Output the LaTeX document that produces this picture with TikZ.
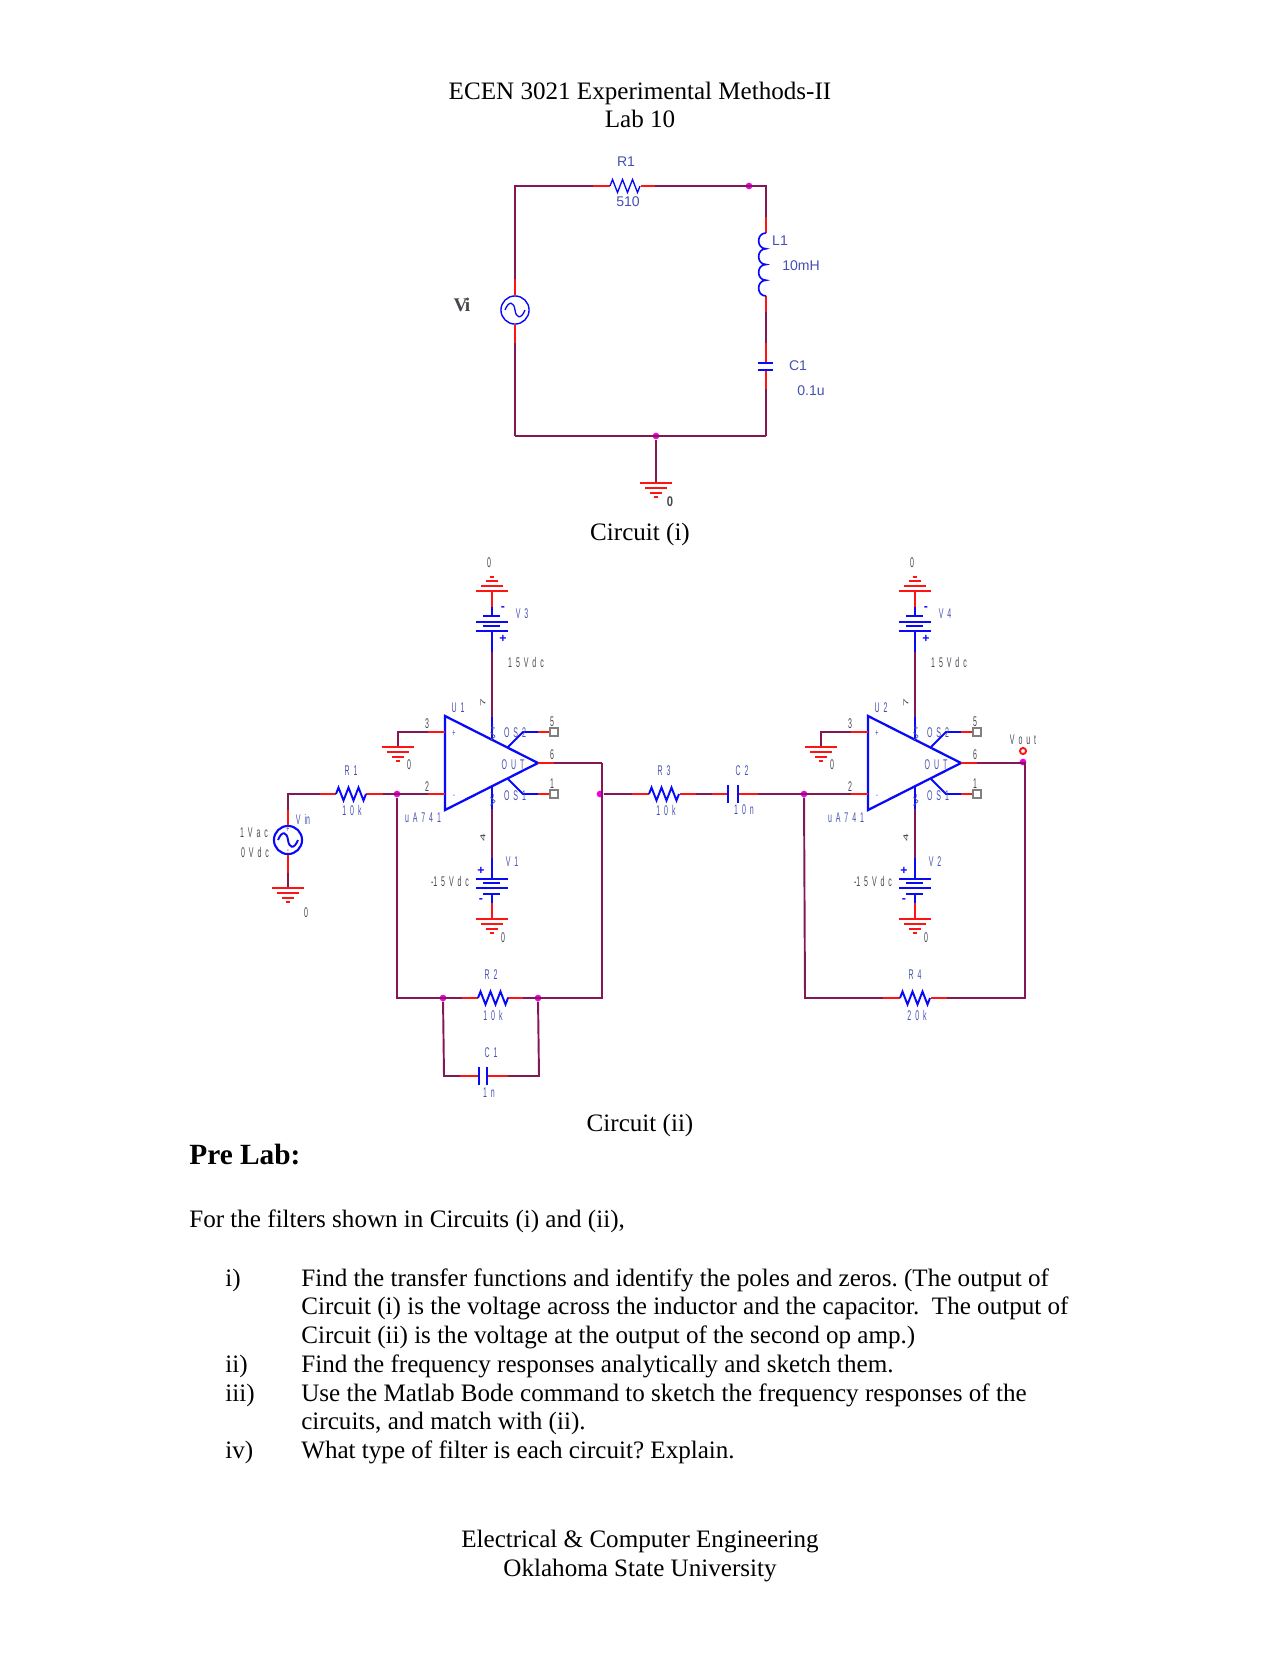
\documentclass[tikz,border=0pt]{standalone}
\usepackage{fontspec}
\setmainfont{Liberation Serif}
\newfontfamily\pinfont{Liberation Sans}[WordSpace=2]
\definecolor{wirepurple}{RGB}{132, 24, 84}
\definecolor{pinred}{RGB}{255, 20, 20}
\definecolor{partblue}{RGB}{10, 10, 250}
\definecolor{lblblue}{RGB}{70, 80, 175}
\definecolor{lblgray}{RGB}{70, 70, 80}
\definecolor{nodepink}{RGB}{240, 0, 230}
\usetikzlibrary{positioning, calc}

\begin{document}
\frenchspacing
\begin{tikzpicture}[x=0.02cm, y=-0.02cm,
  wire/.style={draw=wirepurple, line width=1.1pt},
  thinwire/.style={draw=wirepurple, line width=0.65pt},
  pinw/.style={draw=pinred, line width=1.1pt},
  thinpin/.style={draw=pinred, line width=0.65pt},
  part/.style={draw=partblue, line width=1.1pt},
  thinpart/.style={draw=partblue, line width=0.7pt},
  junc/.style={circle, fill=nodepink, inner sep=0pt, minimum size=3.8pt},
  bodytxt/.style={font=\fontsize{14.28}{16.4}\selectfont, inner sep=0pt},
  lineL/.style={bodytxt, anchor=west},
  lbl/.style={font=\pinfont\fontsize{8}{9}\selectfont, text=lblblue, inner sep=0pt, xscale=0.5, transform shape},
  lblk/.style={lbl, text=lblgray},
  toplbl/.style={font=\pinfont\fontsize{8}{9}\selectfont, text=lblblue, inner sep=0pt},
  polmark/.style={font=\pinfont\bfseries\fontsize{7}{8}\selectfont, text=partblue, inner sep=0pt},
  srcring/.style={circle, draw=partblue, inner sep=0pt, minimum size=16pt},
  gnd/.pic={
    \draw[draw=pinred] (-16,0) -- (16,0) (-11,5) -- (11,5) (-6,10) -- (6,10) (-2,14) -- (2,14);
  },
  resis/.pic={
    \draw[draw=partblue] (0,0) -- (2.5,-6.5) -- (7.5,6.5) -- (12.5,-6.5) -- (17.5,6.5) -- (22.5,-6.5) -- (27.5,6.5) -- (30,0);
  },
  wave/.pic={
    \draw[draw=partblue] (-10,0) .. controls (-6,-10) and (-1,-8) .. (0,0) .. controls (1,8) and (6,10) .. (10,0);
  }
]
  \useasboundingbox (0,0) rectangle (1280,1656);

  % Title
  \node[bodytxt] (title) at (640,93) {ECEN 3021 Experimental Methods-II};
  \node[bodytxt] (lab) at (640,119) {Lab 10};

  % Circuit (i)
  \coordinate (tl) at (515,186);
  \coordinate (tr) at (766,186);
  \coordinate (bl) at (515,436);
  \coordinate (br) at (766,436);
  \coordinate (r1a) at (593,186);
  \coordinate (r1b) at (610,186);
  \coordinate (r1c) at (641,186);
  \coordinate (r1d) at (655,186);
  \coordinate (l1a) at (766,217);
  \coordinate (l1b) at (766,233);
  \coordinate (l1c) at (766,296);
  \coordinate (l1d) at (766,312);
  \coordinate (c1a) at (766,343);
  \coordinate (c1b) at (766,363);
  \coordinate (c1c) at (766,370);
  \coordinate (c1d) at (766,389);
  \coordinate (via) at (515,279);
  \coordinate (vib) at (515,343);
  \coordinate (gnd0) at (656,483);
  \node[srcring, draw=partblue, line width=0.8pt] (vi) at (515,310) {};
  \node[junc] (ja) at (749,186) {};
  \node[junc] (jb) at (656,436) {};
  \draw[thinwire] (via) -- (tl) -- (r1a);
  \draw[thinwire] (r1d) -- (tr) -- (l1a);
  \draw[thinwire] (l1d) -- (c1a);
  \draw[thinwire] (c1d) -- (br);
  \draw[thinwire] (vib) -- (bl);
  \draw[wire] (bl) -- (br);
  \draw[wire] (jb) -- (gnd0);
  \draw[thinpin] (r1a) -- (r1b);
  \draw[thinpin] (r1c) -- (r1d);
  \draw[thinpin] (l1a) -- (l1b);
  \draw[thinpin] (l1c) -- (l1d);
  \draw[thinpin] (c1a) -- (c1b);
  \draw[thinpin] (c1c) -- (c1d);
  \draw[thinpin] (via) -- (vi.north);
  \draw[thinpin] (vi.south) -- (vib);
  \pic[line width=0.75pt] at (r1b) {resis};
  \pic[line width=0.75pt] at (vi) {wave};
  \pic[line width=1pt] at (gnd0) {gnd};
  \draw[thinpart, line width=0.95pt] (l1b) to[out=180,in=180,looseness=1.6] ++(0,15.75) to[out=180,in=180,looseness=1.6] ++(0,15.75) to[out=180,in=180,looseness=1.6] ++(0,15.75) to[out=180,in=180,looseness=1.6] (l1c);
  \draw[thinpart, line width=0.95pt] ($(c1b)+(-8,0)$) -- ($(c1b)+(7,0)$);
  \draw[thinpart, line width=0.95pt] ($(c1c)+(-8,0)$) -- ($(c1c)+(7,0)$);
  \node[toplbl] (r1name) at (626,162) {R1};
  \node[toplbl] (r1val) at (628,202) {510};
  \node[toplbl] (l1name) at (780,241) {L1};
  \node[toplbl] (l1val) at (801,266) {10mH};
  \node[toplbl] (c1name) at (798,366) {C1};
  \node[toplbl] (c1val) at (811,391) {0.1u};
  \node[font=\bfseries\fontsize{11}{12}\selectfont, text=lblgray, inner sep=0pt] (viname) at (462,305) {V\kern-1.5pt i};
  \node[font=\pinfont\bfseries\fontsize{8}{9}\selectfont, text=lblgray, inner sep=0pt, xscale=0.8, transform shape] (gnd0name) at (670,502) {0};
  \node[bodytxt] (capone) at (640,534) {Circuit (i)};

  % Both op amp stages
  \foreach \u/\ox/\vt/\vb in {1/0/V 3/V 1, 2/423/V 4/V 2} {
    \begin{scope}[shift={(\ox,0)}]
      \coordinate (tria\u) at (445,716);
      \coordinate (trib\u) at (445,810);
      \coordinate (tip\u) at (538,763);
      \coordinate (plus\u) at (445,732);
      \coordinate (plusw\u) at (428,732);
      \coordinate (minus\u) at (445,794);
      \coordinate (minusw\u) at (428,794);
      \coordinate (outw\u) at (554,763);
      \coordinate (gtop\u) at (492,591);
      \coordinate (gbot\u) at (492,919);
      \coordinate (os2a\u) at (508,747);
      \coordinate (os2b\u) at (523,732);
      \coordinate (os2c\u) at (538,732);
      \coordinate (os1a\u) at (508,779);
      \coordinate (os1b\u) at (523,794);
      \coordinate (os1c\u) at (538,794);
      \coordinate (gplus\u) at (398,747);
      % Triangle and offset pins
      \draw[part, line width=1.3pt, line join=miter] (tria\u) -- (trib\u) -- (tip\u) -- cycle;
      \draw[part] (os2a\u) -- (os2b\u) -- (os2c\u);
      \draw[part] (os1a\u) -- (os1b\u) -- (os1c\u);
      \node[draw=gray, line width=1.1pt, inner sep=0pt, minimum size=4.5pt] (sq5\u) at (554,732) {};
      \node[draw=gray, line width=1.1pt, inner sep=0pt, minimum size=4.5pt] (sq1\u) at (554,794) {};
      \draw[pinw] (os2c\u) -- (sq5\u);
      \draw[pinw] (os1c\u) -- (sq1\u);
      \draw[pinw] (plusw\u) -- (plus\u);
      \draw[pinw] (minusw\u) -- (minus\u);
      \draw[pinw] (tip\u) -- (outw\u);
      % Ground on the plus input
      \draw[wire] (plusw\u) -| (gplus\u);
      \pic[line width=1.1pt] at (gplus\u) {gnd};
      % Upper supply
      \pic[line width=1.1pt, yscale=-1] at (gtop\u) {gnd};
      \draw[pinw] (gtop\u) -- (492,607);
      \draw[part] (492,607) -- (492,616);
      \draw[part] (483,616) -- (500,616);
      \draw[part] (476,622) -- (508,622);
      \draw[part] (483,626) -- (500,626);
      \draw[part] (476,631) -- (508,631);
      \draw[part] (492,631) -- (492,652);
      \draw[wire] (492,652) -- (492,717);
      \draw[part] (492,717) -- (492,740);
      % Lower supply
      \draw[part] (492,786) -- (492,809);
      \draw[wire] (492,809) -- (492,858);
      \draw[part] (492,858) -- (492,879);
      \draw[part] (476,879) -- (508,879);
      \draw[part] (483,883) -- (500,883);
      \draw[part] (476,888) -- (508,888);
      \draw[part] (483,894) -- (500,894);
      \draw[part] (492,894) -- (492,903);
      \draw[pinw] (492,903) -- (gbot\u);
      \pic[line width=1.1pt] at (gbot\u) {gnd};
      % Labels
      \node[lblk] (gtl\u) at (489,563) {0};
      \node[lbl] (vt\u) at (522,614) {\vt};
      \node[lblk] (vtv\u) at (526,662) {1 5 V d c};
      \node[polmark] (vtm\u) at (503,609) {-};
      \node[polmark] (vtp\u) at (503,639) {+};
      \node[lblk, rotate=90] (pseven\u) at (483,703) {7};
      \node[lbl] (uname\u) at (458,708) {U \u};
      \node[lblk] (pfive\u) at (552,722) {5};
      \node[lblk] (pone\u) at (552,784) {1};
      \node[lblk] (psix\u) at (552,755) {6};
      \node[lblk] (pthree\u) at (427,724) {3};
      \node[lblk] (ptwo\u) at (427,787) {2};
      \node[lblk] (gpl\u) at (409,765) {0};
      \node[lbl, font=\pinfont\fontsize{6}{7}\selectfont] (ipl\u) at (454,733) {+};
      \node[lbl, font=\pinfont\fontsize{6}{7}\selectfont] (imi\u) at (454,797) {-};
      \node[lbl, rotate=90] (vpp\u) at (493,733) {V+};
      \node[lbl, rotate=90] (vmm\u) at (493,800) {V-};
      \node[lbl] (osb\u) at (515,733) {O S 2};
      \node[lbl] (oout\u) at (513,765) {O U T};
      \node[lbl] (osa\u) at (515,796) {O S 1};
      \node[lbl] (ua\u) at (423,818) {u A 7 4 1};
      \node[lblk, rotate=90] (pfour\u) at (483,838) {4};
      \node[lbl] (vb\u) at (512,862) {\vb};
      \node[lblk] (vbv\u) at (450,881) {-1 5 V d c};
      \node[polmark] (vbp\u) at (481,871) {+};
      \node[polmark] (vbm\u) at (481,901) {-};
      \node[lblk] (gbl\u) at (503,938) {0};
    \end{scope}
  }

  % Input source
  \coordinate (vinc) at (288,794);
  \coordinate (vina) at (288,810);
  \coordinate (vinb) at (288,873);
  \coordinate (gvin) at (288,888);
  \coordinate (ra) at (320,794);
  \coordinate (rb) at (336,794);
  \coordinate (rc) at (366,794);
  \coordinate (rd) at (383,794);
  \node[srcring, line width=1.2pt] (vin) at (288,840) {};
  \node[junc] (jinv) at (397,794) {};
  \draw[wire] (vina) -- (vinc) -- (ra);
  \draw[pinw] (ra) -- (rb);
  \draw[pinw] (rc) -- (rd);
  \draw[wire] (rd) -- (minusw1);
  \draw[pinw] (vina) -- (vin.north);
  \draw[pinw] (vin.south) -- (vinb);
  \draw[wire] (vinb) -- (gvin);
  \pic[line width=1.1pt] at (rb) {resis};
  \pic[line width=1.1pt] at (vin) {wave};
  \pic[line width=1.1pt] at (gvin) {gnd};
  \node[lbl, font=\pinfont\fontsize{6}{7}\selectfont] (vinp) at (288,829) {+};
  \node[lbl, font=\pinfont\fontsize{6}{7}\selectfont] (vinm) at (288,852) {-};
  \node[lbl] (r1n) at (351,771) {R 1};
  \node[lbl] (r1k) at (352,810) {1 0 k};
  \node[lbl] (vinn) at (303,819) {V in};
  \node[lblk] (vac) at (254,833) {1 V a c};
  \node[lblk] (vdc) at (255,852) {0 V d c};
  \node[lblk] (gvinl) at (306,913) {0};

  % Middle stage R3 C2
  \coordinate (bout) at (602,763);
  \coordinate (r3a) at (632,794);
  \coordinate (r3b) at (649,794);
  \coordinate (r3c) at (680,794);
  \coordinate (r3d) at (696,794);
  \coordinate (c2a) at (712,794);
  \coordinate (c2b) at (728,794);
  \coordinate (c2c) at (738,794);
  \coordinate (c2d) at (758,794);
  \node[junc] (jmid) at (600,794) {};
  \node[junc] (jinv2) at (804,794) {};
  \draw[wire] (outw1) -- (bout);
  \draw[wire] (jmid) -- (r3a);
  \draw[pinw] (r3a) -- (r3b);
  \draw[pinw] (r3c) -- (r3d);
  \draw[wire] (r3d) -- (c2a);
  \draw[pinw] (c2a) -- (c2b);
  \draw[pinw] (c2c) -- (c2d);
  \draw[wire] (c2d) -- (minusw2);
  \pic[line width=1.1pt] at (r3b) {resis};
  \draw[part, line width=1.4pt] ($(c2b)+(0,-9)$) -- ($(c2b)+(0,9)$);
  \draw[part, line width=1.4pt] ($(c2c)+(0,-9)$) -- ($(c2c)+(0,9)$);
  \node[lbl] (r3n) at (664,771) {R 3};
  \node[lbl] (r3k) at (666,810) {1 0 k};
  \node[lbl] (c2n) at (742,771) {C 2};
  \node[lbl] (c2v) at (744,810) {1 0 n};

  % Feedback of first stage
  \coordinate (fbl) at (397,998);
  \coordinate (fbr) at (602,998);
  \coordinate (r2a) at (462,998);
  \coordinate (r2b) at (478,998);
  \coordinate (r2c) at (507,998);
  \coordinate (r2d) at (523,998);
  \coordinate (cbl) at (444,1076);
  \coordinate (cbr) at (539,1076);
  \coordinate (c3a) at (460,1076);
  \coordinate (c3b) at (479,1076);
  \coordinate (c3c) at (487,1076);
  \coordinate (c3d) at (508,1076);
  \node[junc] (jfba) at (443,998) {};
  \node[junc] (jfbb) at (538,998) {};
  \draw[wire] (jinv) -- (fbl) -- (r2a);
  \draw[wire] (bout) -- (fbr) -- (r2d);
  \draw[pinw] (r2a) -- (r2b);
  \draw[pinw] (r2c) -- (r2d);
  \pic[line width=1.1pt] at (r2b) {resis};
  \draw[wire] (jfba) -- (cbl) -- (c3a);
  \draw[wire] (jfbb) -- (cbr) -- (c3d);
  \draw[pinw] (c3a) -- (c3b);
  \draw[pinw] (c3c) -- (c3d);
  \draw[part, line width=1.4pt] ($(c3b)+(0,-9)$) -- ($(c3b)+(0,9)$);
  \draw[part, line width=1.4pt] ($(c3c)+(0,-9)$) -- ($(c3c)+(0,9)$);
  \node[lbl] (r2n) at (491,975) {R 2};
  \node[lbl] (r2k) at (493,1015) {1 0 k};
  \node[lbl] (c1n) at (491,1053) {C 1};
  \node[lbl] (c1v) at (489,1093) {1 n};

  % Feedback of second stage
  \coordinate (fcl) at (805,998);
  \coordinate (fcr) at (1025,998);
  \coordinate (r4a) at (883,998);
  \coordinate (r4b) at (900,998);
  \coordinate (r4c) at (931,998);
  \coordinate (r4d) at (947,998);
  \coordinate (vo) at (1025,763);
  \node[junc] (jout) at (1023,762) {};
  \node[circle, draw=pinred, line width=1.1pt, inner sep=0pt, minimum size=3.5pt] (voring) at (1023,751) {};
  \draw[wire] (outw2) -- (vo) -- (fcr) -- (r4d);
  \draw[wire] (jinv2) -- (fcl) -- (r4a);
  \draw[pinw] (r4a) -- (r4b);
  \draw[pinw] (r4c) -- (r4d);
  \pic[line width=1.1pt] at (r4b) {resis};
  \node[lbl] (r4n) at (915,975) {R 4};
  \node[lbl] (r4k) at (917,1015) {2 0 k};
  \node[lblk] (vout) at (1023,740) {V o u t};

  % Text below
  \node[bodytxt] (captwo) at (640,1125) {Circuit (ii)};
  \node[lineL, font=\bfseries\fontsize{16.7}{19}\selectfont] (prelab) at (189,1155) {Pre Lab:};
  \node[lineL] (intro) at (189,1221) {For the filters shown in Circuits (i) and (ii),};
  \node[lineL] (ia) at (225,1280) {i)};
  \node[lineL] (la) at (301,1280) {Find the transfer functions and identify the poles and zeros. (The output of};
  \node[lineL] (lb) at (301,1308) {Circuit (i) is the voltage across the inductor and the capacitor.\ \ The output of};
  \node[lineL] (lc) at (301,1337) {Circuit (ii) is the voltage at the output of the second op amp.)};
  \node[lineL] (ib) at (225,1366) {ii)};
  \node[lineL] (ld) at (301,1366) {Find the frequency responses analytically and sketch them.};
  \node[lineL] (ic) at (225,1395) {iii)};
  \node[lineL] (le) at (301,1395) {Use the Matlab Bode command to sketch the frequency responses of the};
  \node[lineL] (lf) at (301,1423) {circuits, and match with (ii).};
  \node[lineL] (id) at (225,1452) {iv)};
  \node[lineL] (lg) at (301,1452) {What type of filter is each circuit? Explain.};
  \node[bodytxt] (ecen) at (640,1541) {Electrical \& Computer Engineering};
  \node[bodytxt] (osu) at (640,1570) {Oklahoma State University};
\end{tikzpicture}
\end{document}
